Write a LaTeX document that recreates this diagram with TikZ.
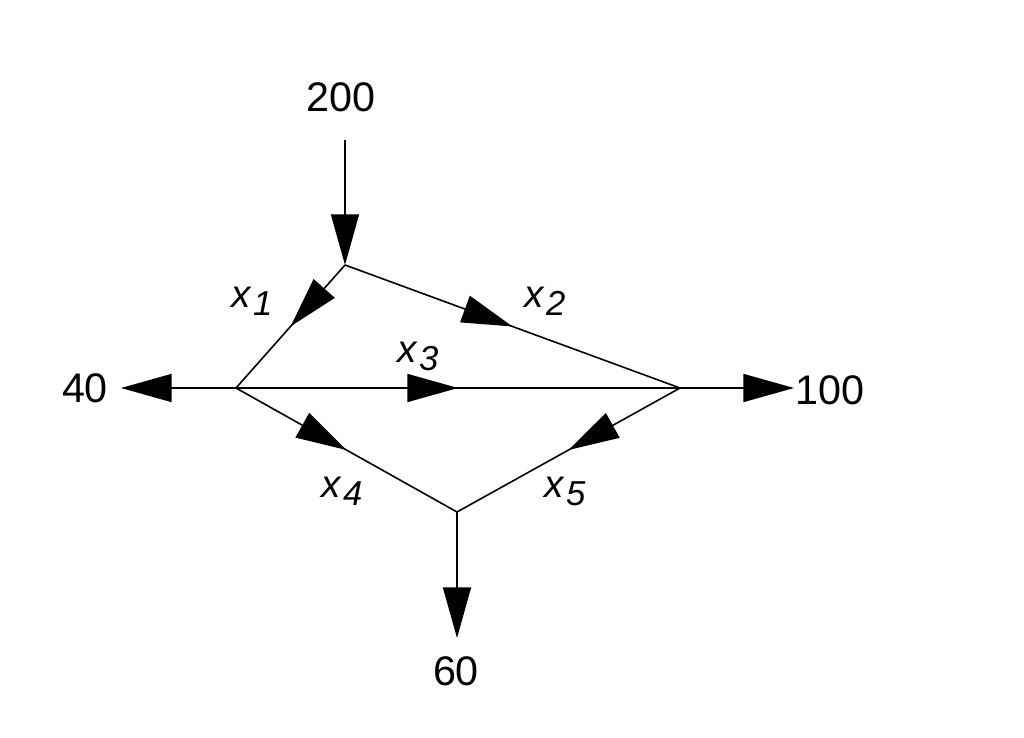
\documentclass[tikz,border=0pt]{standalone}
\usepackage{fontspec}
\setmainfont{Liberation Sans}
\usetikzlibrary{arrows.meta,decorations.markings}
\newcommand\xlab[1]{\fontsize{29}{29}\selectfont\textit{x}\kern1pt\raisebox{-6pt}{\fontsize{26}{26}\selectfont\textit{#1}}}
\tikzset{
  head/.tip={Triangle[length=38pt,width=21pt]},
  edge/.style={line width=1.2pt},
  endarrow/.style={edge,-head},
  midarrow/.style={edge,decoration={markings,mark=at position 0.5 with {\arrow{head}}},postaction={decorate}},
  num/.style={font=\fontsize{31}{31}\selectfont,inner sep=0pt,anchor=base},
  lab/.style={inner sep=0pt,anchor=base west},
}
\begin{document}
\begin{tikzpicture}[x=0.75pt,y=-0.75pt]
\useasboundingbox (0,0) rectangle (1024,738);
\coordinate (A) at (345,265);
\coordinate (B) at (236,388);
\coordinate (C) at (680,388);
\coordinate (D) at (457,512);
\coordinate (s200) at (345,140);
\coordinate (e40) at (121,388);
\coordinate (e100) at (794,388);
\coordinate (e60) at (457,638);
\node[num] (n200) at (341,112) {200};
\node[num] (n40) at (85,402) {40};
\node[num] (n100) at (830,404) {100};
\node[num] (n60) at (456,685) {60};
\node[lab] (l1) at (231,307) {\xlab{1}};
\node[lab] (l2) at (524,307) {\xlab{2}};
\node[lab] (l3) at (397,362) {\xlab{3}};
\node[lab] (l4) at (321,497) {\xlab{4}};
\node[lab] (l5) at (544,497) {\xlab{5}};
\draw[endarrow] (s200) -- (A);
\draw[endarrow] (B) -- (e40);
\draw[endarrow] (C) -- (e100);
\draw[endarrow] (D) -- (e60);
\draw[midarrow] (A) -- (B);
\draw[midarrow] (A) -- (C);
\draw[midarrow] (B) -- (C);
\draw[midarrow] (B) -- (D);
\draw[midarrow] (C) -- (D);
\end{tikzpicture}
\end{document}
